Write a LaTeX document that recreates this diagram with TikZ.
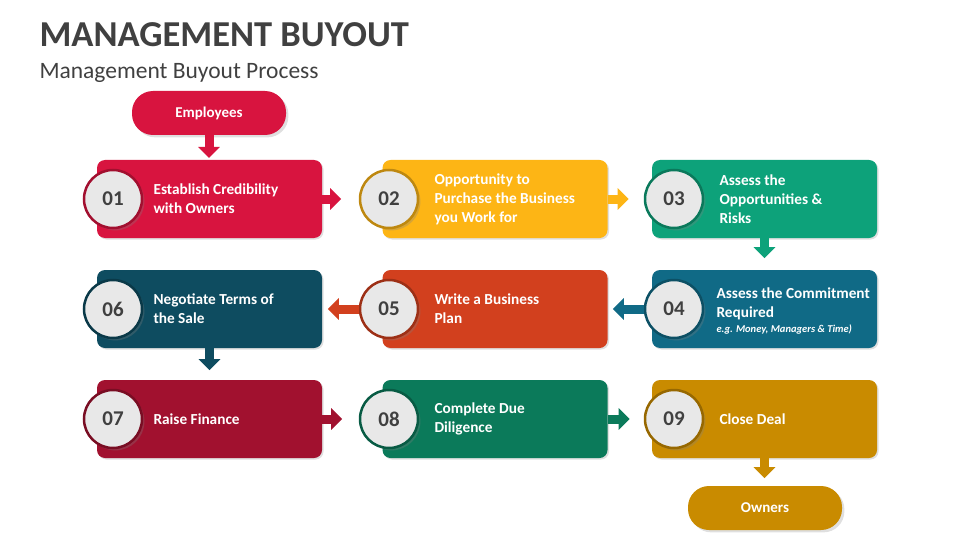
\documentclass[tikz,border=0pt]{standalone}
\usepackage{fontspec}
\setmainfont{Carlito}
\usetikzlibrary{arrows.meta,shadows}
\definecolor{cA}{HTML}{D8143F}
\definecolor{cB}{HTML}{FDB515}
\definecolor{cC}{HTML}{0DA27A}
\definecolor{cD}{HTML}{106A86}
\definecolor{cE}{HTML}{D2401E}
\definecolor{cF}{HTML}{0E4C60}
\definecolor{cG}{HTML}{A1112F}
\definecolor{cH}{HTML}{0B7A5A}
\definecolor{cI}{HTML}{C98B00}
\definecolor{txt}{HTML}{404040}
\tikzset{
 box/.style={fill=#1, rounded corners=8pt, minimum width=225pt, minimum height=78pt, drop shadow={opacity=0.25,shadow xshift=1.5pt,shadow yshift=-1.5pt}},
 num/.style={circle, fill=black!9, draw=#1!75!black, line width=2.5pt, minimum size=58pt, font=\bfseries\fontsize{21}{22}\selectfont, text=txt, drop shadow={opacity=0.3}},
 lbl/.style={anchor=west, align=left, text=white, font=\bfseries\fontsize{15.3}{19}\selectfont},
 pill/.style={fill=#1, rounded corners=21pt, minimum width=154pt, minimum height=44pt, text=white, font=\bfseries\fontsize{15}{16}\selectfont, drop shadow={opacity=0.25}},
 barrow/.style={draw=#1, line width=9pt, -{Triangle[width=21pt,length=11pt]}, shorten >=0pt},
}
\begin{document}
\begin{tikzpicture}[x=1pt,y=-1pt]
\useasboundingbox (0,0) rectangle (960,540);
\node[anchor=west, text=txt, font=\bfseries\fontsize{36.5}{38}\selectfont] (title) at (36,35) {MANAGEMENT BUYOUT};
\node[anchor=west, text=txt, font=\fontsize{23.5}{25}\selectfont] (sub) at (36,73) {Management Buyout Process};

\node[pill=cA] (emp) at (209,113) {Employees};
\node[pill=cI] (own) at (765,508) {Owners};

\node[box=cA] (b1) at (209.5,199) {};
\node[box=cB] (b2) at (495,199) {};
\node[box=cC] (b3) at (764.5,199) {};
\node[box=cF] (b6) at (209.5,309) {};
\node[box=cE] (b5) at (495,309) {};
\node[box=cD] (b4) at (764.5,309) {};
\node[box=cG] (b7) at (209.5,419) {};
\node[box=cH] (b8) at (495,419) {};
\node[box=cI] (b9) at (764.5,419) {};

\node[num=cA] (n1) at (113,199) {01};
\node[num=cB] (n2) at (389,199) {02};
\node[num=cC] (n3) at (674,199) {03};
\node[num=cF] (n6) at (113,309) {06};
\node[num=cE] (n5) at (389,309) {05};
\node[num=cD] (n4) at (674,309) {04};
\node[num=cG] (n7) at (113,419) {07};
\node[num=cH] (n8) at (389,419) {08};
\node[num=cI] (n9) at (674,419) {09};

\node[lbl] (t1) at (150,199) {Establish Credibility\\with Owners};
\node[lbl] (t2) at (431,199) {Opportunity to\\Purchase the Business\\you Work for};
\node[lbl] (t3) at (716,199) {Assess the\\Opportunities \&\\Risks};
\node[lbl] (t4) at (713,311) {Assess the Commitment\\Required\\[-4pt]{\itshape\fontsize{10.5}{12}\selectfont e.g. Money, Managers \& Time)}};
\node[lbl] (t5) at (431,309) {Write a Business\\Plan};
\node[lbl] (t6) at (150,309) {Negotiate Terms of\\the Sale};
\node[lbl] (t7) at (150,419) {Raise Finance};
\node[lbl] (t8) at (431,419) {Complete Due\\Diligence};
\node[lbl] (t9) at (716,419) {Close Deal};

\coordinate (e1) at (209,158);
\draw[barrow=cA] (emp.south) -- (e1);
\draw[barrow=cA] (b1.east) -- ++(19,0) coordinate (x12);
\draw[barrow=cB] (b2.east) -- ++(21,0) coordinate (x23);
\draw[barrow=cC] (b3.south) -- ++(0,20) coordinate (x34);
\draw[barrow=cD] (n4.west) -- ++(-31,0) coordinate (x45);
\draw[barrow=cE] (n5.west) -- ++(-31,0) coordinate (x56);
\draw[barrow=cF] (b6.south) -- ++(0,22) coordinate (x67);
\draw[barrow=cG] (b7.east) -- ++(20,0) coordinate (x78);
\draw[barrow=cH] (b8.east) -- ++(22,0) coordinate (x89);
\draw[barrow=cI] (b9.south) -- ++(0,20) coordinate (x9o);
\end{tikzpicture}
\end{document}
